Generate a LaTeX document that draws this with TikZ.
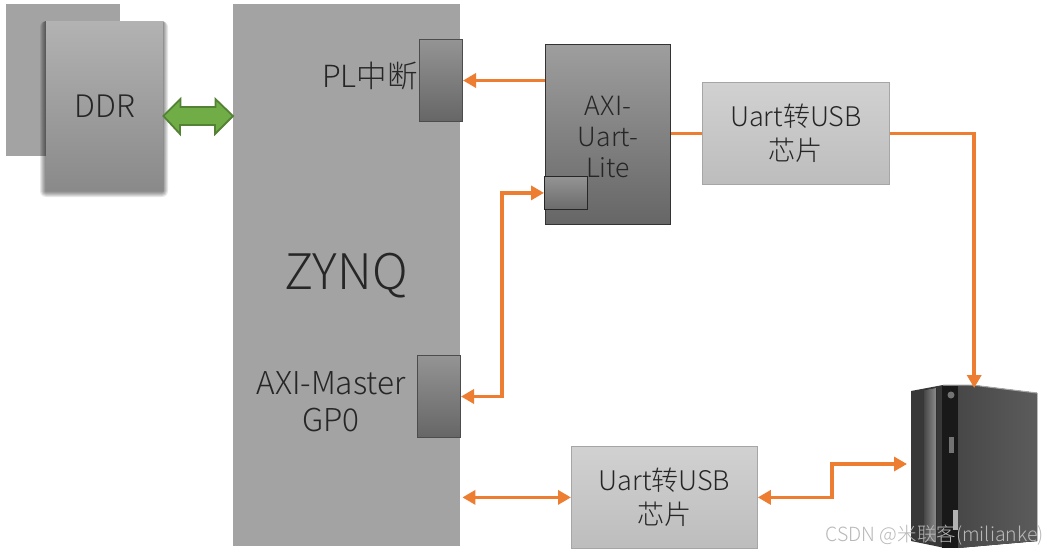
\documentclass[tikz,border=0pt]{standalone}
\usepackage{fontspec}
\setmainfont{Noto Sans CJK SC Light}
\usetikzlibrary{arrows.meta}
\definecolor{linkorange}{HTML}{ED7D31}
\definecolor{arrgreen}{HTML}{70AD47}
\definecolor{arrgreend}{HTML}{548235}
\tikzset{
 box/.style={minimum width=#1,inner sep=0pt,anchor=north west,align=center,text=black!85},
 label/.style={inner sep=0pt,align=center,text=black!85},
 flat/.style={fill=black!36},
 port/.style={draw=black!70,line width=1pt,top color=black!42,bottom color=black!60},
 conn/.style={draw=linkorange,line width=3.6pt,-{Triangle[length=13pt,width=14pt]}},
 biconn/.style={draw=linkorange,line width=3.6pt,{Triangle[length=13pt,width=14pt]}-{Triangle[length=13pt,width=14pt]}},
 plain/.style={draw=linkorange,line width=3.6pt},
 chip/.style={draw=black!35,line width=.8pt,top color=black!18,bottom color=black!26},
 softshadow/.style={fill=black,fill opacity=.09,rounded corners=#1},
}
\begin{document}
\begin{tikzpicture}[x=1pt,y=-1pt]
\useasboundingbox (0,0) rectangle (1047,554);
\fill[white] (0,0) rectangle (1047,554);
\node[box=114pt,flat,minimum height=152pt] (ddrback) at (6,4) {};
% soft shadow of the DDR block
\fill[softshadow=6pt] (40,21) rectangle (168,197);
\fill[softshadow=5pt] (41,21) rectangle (167,196);
\fill[softshadow=4pt] (42,21) rectangle (166,195);
\fill[softshadow=3pt] (43,21) rectangle (165,194);
\fill[softshadow=2pt] (44,21) rectangle (164,193);
\fill[softshadow=1pt] (45,21) rectangle (164,192);
\node[box=117pt,minimum height=169pt,top color=black!30,bottom color=black!46,font=\fontsize{31}{36}\selectfont] (ddr) at (46,21) {DDR};
\node[box=227pt,flat,minimum height=542pt] (zynq) at (233,4) {};
\node[label,font=\fontsize{49}{56}\selectfont] (zynqtext) at (346,276) {ZYNQ};
\node[box=43pt,port,minimum height=82pt] (plport) at (419,39) {};
\node[box=43pt,port,minimum height=82pt] (mport) at (417,355) {};
\node[anchor=east,font=\fontsize{30.5}{36}\selectfont,text=black!85,inner sep=0pt] (pl) at (418,76) {PL中断};
\node[label,font=\fontsize{31.5}{37}\selectfont] (master) at (331,402) {AXI-Master\\GP0};
\node[box=125pt,draw=black!80,line width=.8pt,top color=black!38,bottom color=black!60,minimum height=180pt] (axi) at (545,44) {};
\node[label,font=\fontsize{26.5}{31}\selectfont] (axitext) at (608,137) {AXI-\\Uart-\\Lite};
\node[box=43pt,draw=black!85,line width=.8pt,top color=black!42,bottom color=black!58,minimum height=33pt] (slave) at (544,176) {};
\node[box=187pt,chip,minimum height=102pt,font=\fontsize{27}{34}\selectfont] (uone) at (702,82) {Uart转USB\\芯片};
\node[box=186pt,chip,minimum height=102pt,font=\fontsize{27}{34}\selectfont] (utwo) at (571,446) {Uart转USB\\芯片};
% green double arrow between DDR and ZYNQ
\coordinate (linkl) at (ddr.east |- 0,116);
\coordinate (linkr) at (zynq.west |- 0,116);
\draw[draw=arrgreend,line width=1.8pt,fill=arrgreen,line join=miter]
 (linkl) -- ++(17,-17) -- ++(0,8) -- ++(35,0) -- ++(0,-8) -- (linkr) -- ++(-18,18) -- ++(0,-9) -- ++(-35,0) -- ++(0,9) -- cycle;
% computer
\node[box=126pt,minimum height=163pt] (pc) at (911,385) {};
\fill[black!78] (911,391) -- (943,385) -- (972,385) -- (1037,393) -- (1037,541) -- (945,548) -- (911,541) -- cycle;
\fill[left color=black!72,right color=black!64] (958,386) -- (972,385) -- (1037,393) -- (1037,541) -- (958,548) -- cycle;
\fill[black!90] (942,386) -- (958,386) -- (958,548) -- (942,548) -- cycle;
\fill[left color=black!72,right color=black!45] (924,390) -- (936,388) -- (936,542) -- (924,541) -- cycle;
\draw[black!35,line width=1pt] (943,385) -- (972,385) -- (1037,393);
\fill[black!55] (951,395) circle (3.5pt);
\fill[black!30] (953,510) rectangle (958,530);
\fill[black!55] (949,437) rectangle (954,453);
% connectors
\draw[conn] (axi.west |- plport.east) -- (plport.east);
\draw[plain] (axi.east |- uone.west) -- (uone.west);
\coordinate (pctop) at (pc.north);
\draw[conn] (uone.east) -| ([yshift=-3pt]pctop);
\coordinate (busx) at (502,300);
\draw[biconn] (slave.west) -| (busx) |- (mport.east);
\coordinate (zin) at ([xshift=2pt]zynq.east |- utwo.west);
\draw[biconn] (zin) -- (utwo.west);
\coordinate (stepx) at (832,480);
\coordinate (pcin) at (907,464);
\draw[biconn] (utwo.east) -| (stepx) |- (pcin);
\node[anchor=east,font=\fontsize{19.5}{22}\selectfont,text=black!28,inner sep=0pt] (mark) at (1044,535) {CSDN @米联客(milianke)};
\end{tikzpicture}
\end{document}
